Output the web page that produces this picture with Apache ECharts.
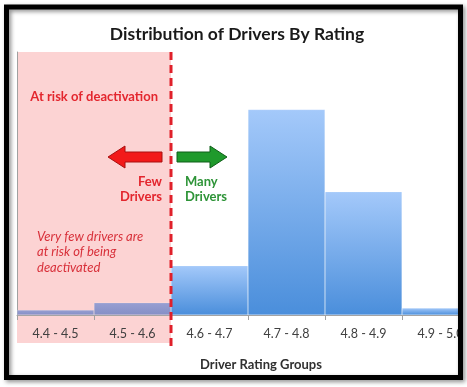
<!DOCTYPE html>
<html><head><meta charset="utf-8">
<script src="https://cdn.jsdelivr.net/npm/echarts@6/dist/echarts.min.js"></script>
<style>html,body{margin:0;padding:0;background:#fff}#c{width:467px;height:387px}</style>
</head><body><div id="c"></div>
<script>
const categories = ['4.4 - 4.5','4.5 - 4.6','4.6 - 4.7','4.7 - 4.8','4.8 - 4.9','4.9 - 5.0'];
const values = [1.2, 3, 12, 50, 30, 1.7];
const riskCount = 2; // first two groups are at risk
const FONT = 'Lato';

const chart = echarts.init(document.getElementById('c'), null, {renderer:'canvas'});
const blueGrad = new echarts.graphic.LinearGradient(0,0,0,1,[{offset:0,color:'#a4c9fa'},{offset:1,color:'#4a8edb'}]);
const riskGrad = new echarts.graphic.LinearGradient(0,0,0,1,[{offset:0,color:'#979fd2'},{offset:1,color:'#858fc6'}]);

chart.setOption({
  animation:false,
  title:{text:'Distribution of Drivers By Rating', left:232, top:20, textAlign:'center',
    textStyle:{fontFamily:FONT, fontSize:17.5, fontWeight:'bold', color:'#1a1a1a'}},
  grid:{left:17, right:-12, top:52, bottom:72, outerBoundsMode:'none', containLabel:false},
  xAxis:{type:'category', data:categories,
    axisLine:{lineStyle:{color:'#a0a0a0'}},
    axisTick:{show:true, length:5, lineStyle:{color:'#a0a0a0'}},
    axisLabel:{fontFamily:FONT, fontSize:12.5, color:'#404040', margin:12},
    name:'Driver Rating Groups', nameLocation:'middle', nameGap:43,
    nameTextStyle:{fontFamily:FONT, fontSize:13, fontWeight:'bold', color:'#303030', padding:[0,0,0,26]}},
  yAxis:{type:'value', min:0, max:64, axisLine:{show:true, lineStyle:{color:'#a0a0a0'}},
    axisLabel:{show:false}, axisTick:{show:false}, splitLine:{show:false}},
  series:[{type:'bar', barCategoryGap:'0%',
    data: values.map((v,i)=>({value:v, itemStyle:{color: i<riskCount ? riskGrad : blueGrad}})),
    itemStyle:{borderColor:'rgba(255,255,255,0.2)', borderWidth:0.5}}]
});

function draw(){
  const c0 = chart.convertToPixel({xAxisIndex:0}, 0);
  const c1 = chart.convertToPixel({xAxisIndex:0}, 1);
  const bw = c1 - c0;
  const left = c0 - bw/2;
  const bx = c1 + bw/2;             // boundary between at-risk and the rest
  const top = chart.convertToPixel({yAxisIndex:0}, 64);
  const base = chart.convertToPixel({yAxisIndex:0}, 0);
  const red = '#e3262e', green = '#2e9438';
  const ay = top + 105;
  const els = [
    {type:'rect', z:-10, shape:{x:left, y:top, width:bx-left, height:base-top+28}, style:{fill:'#fcd3d3'}},
    {type:'line', z:50, shape:{x1:bx, y1:top, x2:bx, y2:base+32}, style:{stroke:'#e0202a', lineWidth:3, lineDash:[8,5]}},
    {type:'text', z:50, style:{text:'At risk of deactivation', x:bx-13, y:top+45, align:'right', verticalAlign:'middle',
      font:'bold 13px '+FONT, fill:red}},
    {type:'polygon', z:50, shape:{points:[[bx-63,ay],[bx-46,ay-11],[bx-46,ay-5],[bx-9,ay-5],[bx-9,ay+5],[bx-46,ay+5],[bx-46,ay+11]]},
      style:{fill:'#f21a1a', stroke:'#a81010', lineWidth:1}},
    {type:'polygon', z:50, shape:{points:[[bx+56,ay],[bx+39,ay-11],[bx+39,ay-5],[bx+6,ay-5],[bx+6,ay+5],[bx+39,ay+5],[bx+39,ay+11]]},
      style:{fill:'#1f9a2c', stroke:'#0f5e18', lineWidth:1}},
    {type:'text', z:50, style:{text:'Few\nDrivers', x:bx-9, y:ay+17, align:'right', verticalAlign:'top', lineHeight:15,
      font:'bold 13px '+FONT, fill:red}},
    {type:'text', z:50, style:{text:'Many\nDrivers', x:bx+14, y:ay+17, align:'left', verticalAlign:'top', lineHeight:15,
      font:'bold 13px '+FONT, fill:green}},
    {type:'text', z:50, style:{text:'Very few drivers are\nat risk of being\ndeactivated', x:left+20, y:top+177, align:'left', verticalAlign:'top', lineHeight:15.5,
      font:'italic 13px '+FONT, fill:'#d8303a'}},
    {type:'rect', z:90, shape:{x:463, y:0, width:10, height:387}, style:{fill:'#fff'}},
    {type:'rect', z:100, shape:{x:6.5, y:7, width:454, height:370.5},
      style:{fill:'none', stroke:'#000', lineWidth:5, shadowColor:'rgba(0,0,0,0.45)', shadowBlur:4, shadowOffsetX:2, shadowOffsetY:2}}
  ];
  chart.setOption({graphic:{elements:els}});
}
draw();
</script></body></html>
